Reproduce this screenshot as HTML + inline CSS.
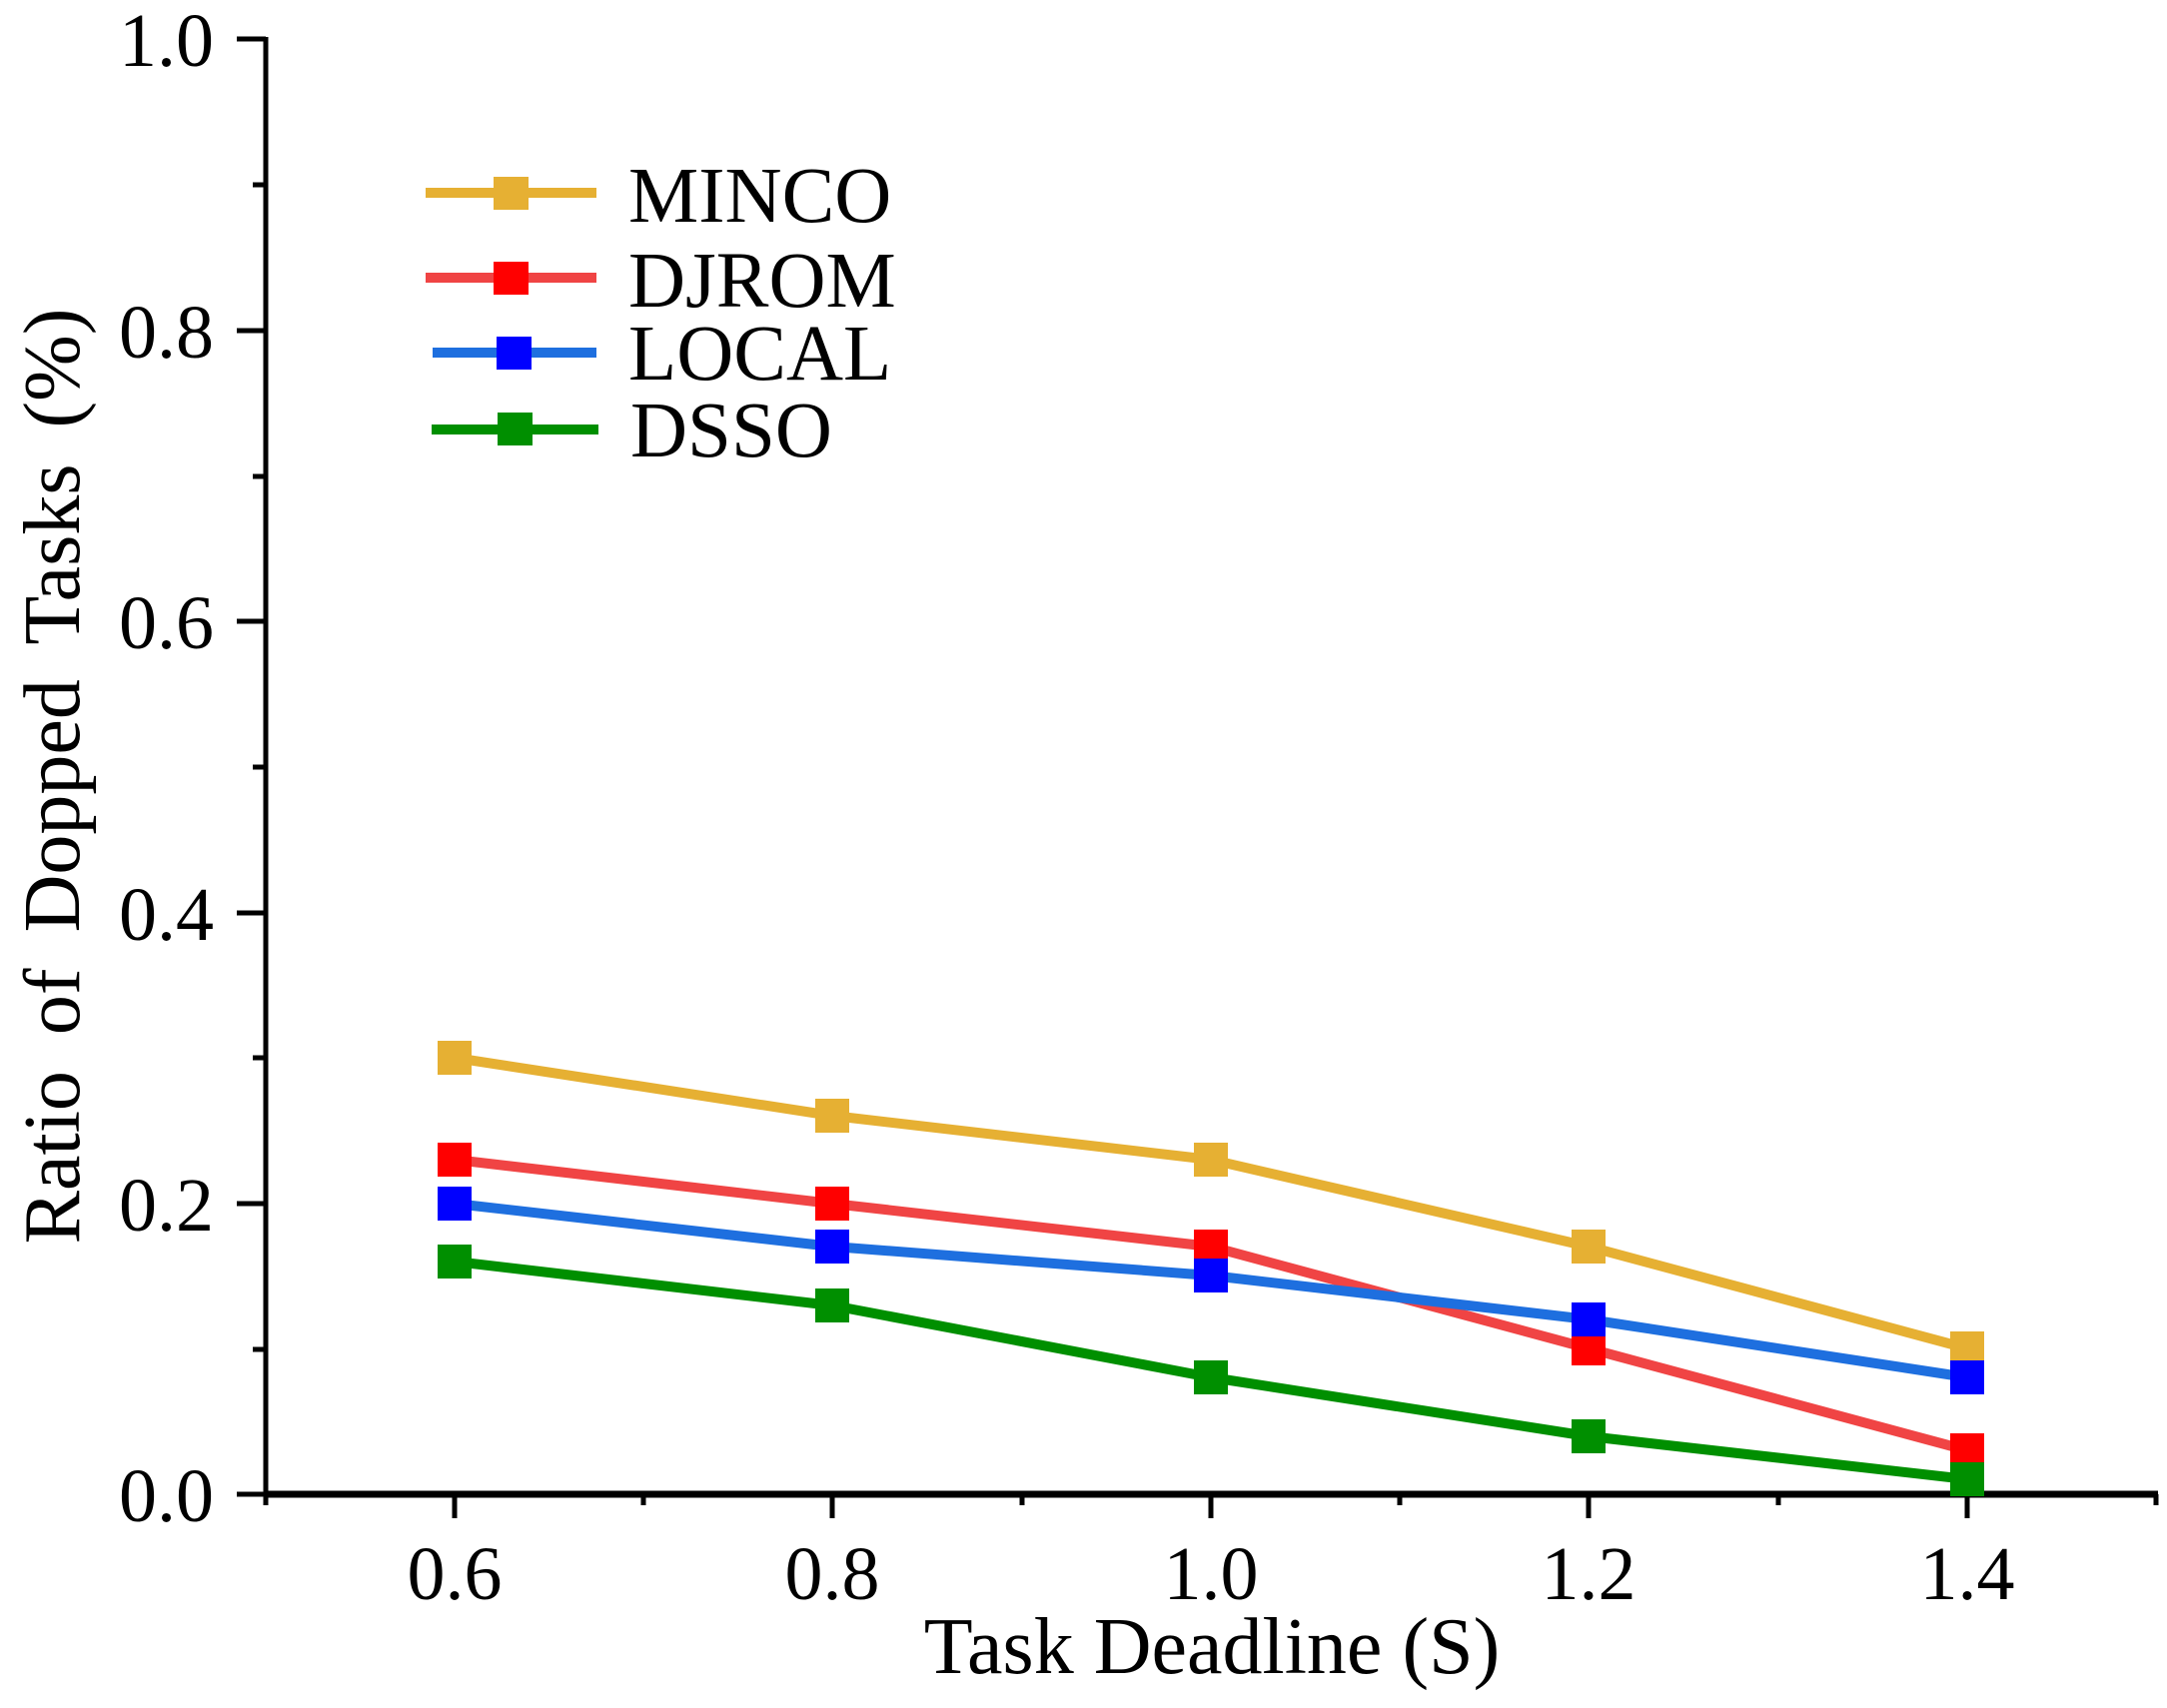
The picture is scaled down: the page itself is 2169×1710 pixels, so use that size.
<!DOCTYPE html>
<html><head><style>body{margin:0;background:#fff}</style></head><body>
<svg width="2169" height="1705" xmlns="http://www.w3.org/2000/svg" font-family="Liberation Serif, serif">
<rect width="2169" height="1705" fill="#fff"/>
<g stroke="#000" stroke-width="5">
<line x1="266" y1="37" x2="266" y2="1499"/>
<line x1="264" y1="1496" x2="2160" y2="1496" stroke-width="7"/>
<line x1="237" y1="39" x2="266" y2="39"/>
<line x1="253" y1="185" x2="266" y2="185"/>
<line x1="237" y1="331" x2="266" y2="331"/>
<line x1="253" y1="477" x2="266" y2="477"/>
<line x1="237" y1="622" x2="266" y2="622"/>
<line x1="253" y1="768" x2="266" y2="768"/>
<line x1="237" y1="914" x2="266" y2="914"/>
<line x1="253" y1="1059" x2="266" y2="1059"/>
<line x1="237" y1="1205" x2="266" y2="1205"/>
<line x1="253" y1="1351" x2="266" y2="1351"/>
<line x1="237" y1="1496" x2="266" y2="1496"/>
<line x1="266" y1="1496" x2="266" y2="1507"/>
<line x1="455" y1="1496" x2="455" y2="1520"/>
<line x1="644" y1="1496" x2="644" y2="1507"/>
<line x1="833" y1="1496" x2="833" y2="1520"/>
<line x1="1023" y1="1496" x2="1023" y2="1507"/>
<line x1="1212" y1="1496" x2="1212" y2="1520"/>
<line x1="1401" y1="1496" x2="1401" y2="1507"/>
<line x1="1590" y1="1496" x2="1590" y2="1520"/>
<line x1="1780" y1="1496" x2="1780" y2="1507"/>
<line x1="1969" y1="1496" x2="1969" y2="1520"/>
<line x1="2158" y1="1496" x2="2158" y2="1507"/>
</g>
<g font-size="76" text-anchor="end" fill="#000">
<text x="214" y="66">1.0</text>
<text x="214" y="358">0.8</text>
<text x="214" y="649">0.6</text>
<text x="214" y="941">0.4</text>
<text x="214" y="1232">0.2</text>
<text x="214" y="1523">0.0</text>
</g>
<g font-size="76" text-anchor="middle" fill="#000">
<text x="455" y="1601">0.6</text>
<text x="833" y="1601">0.8</text>
<text x="1212" y="1601">1.0</text>
<text x="1590" y="1601">1.2</text>
<text x="1969" y="1601">1.4</text>
</g>
<g font-size="80" text-anchor="middle" fill="#000">
<text x="1213" y="1675">Task Deadline (S)</text>
<text transform="translate(79,777) rotate(-90)" word-spacing="16">Ratio of Dopped Tasks (%)</text>
</g>
<g fill="none" stroke-width="10" stroke-linejoin="round">
<polyline stroke="#E6B033" points="455,1059 833,1117 1212,1161 1590,1248 1969,1350"/>
<polyline stroke="#F04444" points="455,1161 833,1205 1212,1248 1590,1350 1969,1452"/>
<polyline stroke="#1E6FDF" points="455,1205 833,1248 1212,1277 1590,1321 1969,1379"/>
<polyline stroke="#008F00" points="455,1263 833,1307 1212,1379 1590,1438 1969,1481"/>
</g>
<g fill="#E6B033">
<rect x="438" y="1042" width="34" height="34"/><rect x="816" y="1100" width="34" height="34"/><rect x="1195" y="1144" width="34" height="34"/><rect x="1573" y="1231" width="34" height="34"/><rect x="1952" y="1333" width="34" height="34"/>
</g>
<g fill="#FF0000">
<rect x="438" y="1144" width="34" height="34"/><rect x="816" y="1188" width="34" height="34"/><rect x="1195" y="1231" width="34" height="34"/><rect x="1573" y="1333" width="34" height="34"/><rect x="1952" y="1435" width="34" height="34"/>
</g>
<g fill="#0000FF">
<rect x="438" y="1188" width="34" height="34"/><rect x="816" y="1231" width="34" height="34"/><rect x="1195" y="1260" width="34" height="34"/><rect x="1573" y="1304" width="34" height="34"/><rect x="1952" y="1362" width="34" height="34"/>
</g>
<g fill="#008F00">
<rect x="438" y="1246" width="34" height="34"/><rect x="816" y="1290" width="34" height="34"/><rect x="1195" y="1362" width="34" height="34"/><rect x="1573" y="1421" width="34" height="34"/><rect x="1952" y="1464" width="34" height="34"/>
</g>
<g stroke-width="10">
<line x1="426" y1="193" x2="597" y2="193" stroke="#E6B033"/>
<line x1="426" y1="278" x2="597" y2="278" stroke="#F04444"/>
<line x1="433" y1="353" x2="597" y2="353" stroke="#1E6FDF"/>
<line x1="432" y1="430" x2="599" y2="430" stroke="#008F00"/>
</g>
<rect x="494" y="177" width="35" height="33" fill="#E6B033"/>
<rect x="494" y="262" width="35" height="33" fill="#FF0000"/>
<rect x="497" y="337" width="35" height="33" fill="#0000FF"/>
<rect x="498" y="413" width="35" height="33" fill="#008F00"/>
<g font-size="79" fill="#000">
<text x="629" y="222">MINCO</text>
<text x="629" y="307">DJROM</text>
<text x="629" y="380">LOCAL</text>
<text x="631" y="457">DSSO</text>
</g>
</svg>
</body></html>
